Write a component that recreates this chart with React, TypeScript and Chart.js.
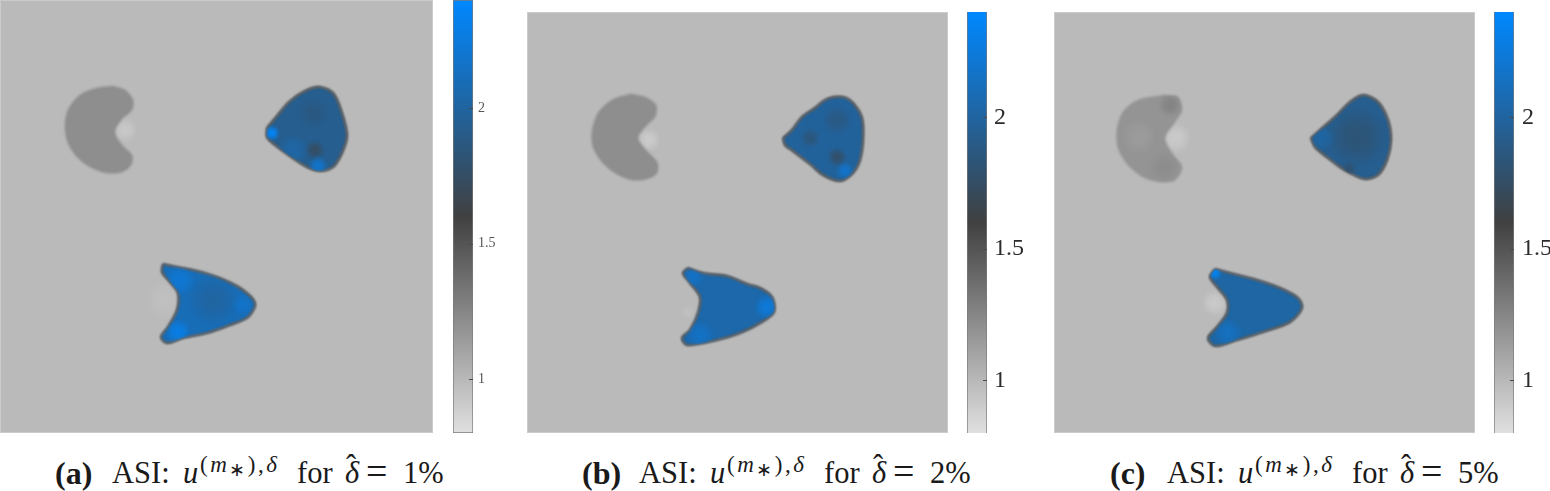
import React, { useEffect, useRef } from "react";
import { Chart, registerables } from "chart.js";

Chart.register(...registerables);

// colour scale of the field
const scaleValues = [0.8, 1.6, 2.4];
const scaleColors = [[224, 224, 224], [64, 64, 64], [0, 136, 255]];
const colorbarTicks = [1, 1.5, 2];
const backgroundValue = 0.99;
const edgeValue = 1.52;

// outlines, in field units (each field is one unit per sampled pixel)
const crescentA = [[113,86],[125,90],[133,100],[132,110],[122,119],[115,132],[122,145],[132,155],[131,165],[122,172],[107,173],[92,168],[78,158],[68,143],[65,127],[68,110],[80,95],[97,88]];
const rightA = [[267,128],[277,116],[289,102],[305,91],[320,87],[333,93],[341,110],[347,135],[342,153],[333,167],[320,171],[307,167],[290,156],[275,145],[267,137]];
const bottomA = [[163,264],[177,267],[197,271],[217,277],[240,288],[255,303],[248,317],[230,325],[207,333],[183,338],[167,343],[161,337],[168,327],[177,310],[178,293],[170,282],[162,272]];

const crescentB = [[103,82],[118,85],[129,93],[128,105],[118,115],[111,126],[118,137],[130,150],[130,161],[120,167],[105,168],[88,161],[75,150],[66,135],[65,120],[71,101],[85,88]];
const rightB = [[256,126],[265,118],[275,105],[288,96],[300,87],[316,85],[326,91],[335,106],[336,128],[333,148],[326,161],[313,169],[296,163],[283,152],[266,139],[258,133]];
const bottomB = [[161,256],[176,261],[200,264],[220,272],[233,276],[245,285],[247,300],[233,311],[213,321],[190,328],[160,333],[155,326],[163,318],[171,301],[173,285],[163,271],[156,261]];

const crescentC = [[111,83],[124,85],[128,98],[121,110],[111,126],[118,141],[128,155],[121,168],[106,170],[89,165],[74,153],[64,136],[63,118],[69,100],[84,88]];
const rightC = [[257,126],[266,118],[283,103],[296,90],[309,83],[324,90],[334,108],[337,128],[333,148],[324,163],[311,167],[296,161],[286,155],[274,146],[261,135]];
const bottomC = [[161,257],[176,261],[203,268],[226,276],[244,286],[248,296],[236,310],[209,320],[183,328],[161,334],[154,326],[163,315],[173,301],[173,288],[164,276],[156,265]];

// soft local extremes: x, y, radius, value
const halosA = [[125,130,13,0.92],[165,300,20,0.96]];
const spotsRightA = [[313,113,15,1.87],[293,150,16,2.03],[315,150,10,1.74],[318,166,10,2.2],[272,133,8,2.42]];
const spotsBottomA = [[213,300,26,2.0],[180,280,16,2.22],[178,332,13,2.3],[243,305,11,2.18]];

const halosB = [[122,128,12,0.9],[161,300,8,0.96]];
const spotsRightB = [[310,108,15,1.88],[283,126,10,1.84],[310,145,10,1.76],[318,159,9,2.2]];
const spotsBottomB = [[240,295,13,2.25],[173,323,15,2.16],[166,265,11,2.16]];

const halosC = [[122,126,16,0.91],[161,291,14,0.91]];
const crescentSpotsC = [[116,93,12,1.27],[85,125,18,1.14],[110,155,15,1.22]];
const spotsRightC = [[303,125,30,1.82],[268,126,13,2.02],[295,157,8,1.8]];
const spotsBottomC = [[161,261,7,2.36],[174,321,15,2.14]];

const panels = [
  { left: 0, top: 0, size: 433, halos: halosA, blobs: [
    { outline: crescentA, value: 1.21, edge: false, spots: [] },
    { outline: rightA, value: 1.93, edge: true, spots: spotsRightA },
    { outline: bottomA, value: 2.1, edge: true, spots: spotsBottomA },
  ] },
  { left: 527, top: 12, size: 421, halos: halosB, blobs: [
    { outline: crescentB, value: 1.21, edge: false, spots: [] },
    { outline: rightB, value: 1.98, edge: true, spots: spotsRightB },
    { outline: bottomB, value: 2.05, edge: true, spots: spotsBottomB },
  ] },
  { left: 1054, top: 12, size: 421, halos: halosC, blobs: [
    { outline: crescentC, value: 1.18, edge: false, spots: crescentSpotsC },
    { outline: rightC, value: 1.93, edge: true, spots: spotsRightC },
    { outline: bottomC, value: 2.02, edge: true, spots: spotsBottomC },
  ] },
];

const colorbars = [
  { left: 453, top: 0, height: 433, width: 70, fontSize: 14, padding: 5, labelColor: "#555", capped: true },
  { left: 967, top: 12, height: 421, width: 70, fontSize: 24, padding: 7, labelColor: "#2b2b2b", capped: false },
  { left: 1494, top: 12, height: 421, width: 56, fontSize: 24, padding: 8, labelColor: "#2b2b2b", capped: false },
];

const captions = [
  { left: 55, tag: "(a)", percent: "1%" },
  { left: 582, tag: "(b)", percent: "2%" },
  { left: 1110, tag: "(c)", percent: "5%" },
];

function colorFor(value: number): string {
  const v = Math.min(scaleValues[2], Math.max(scaleValues[0], value));
  const i = v <= scaleValues[1] ? 0 : 1;
  const t = (v - scaleValues[i]) / (scaleValues[i + 1] - scaleValues[i]);
  const c = scaleColors[i].map((a, k) => Math.round(a + (scaleColors[i + 1][k] - a) * t));
  return `rgb(${c[0]},${c[1]},${c[2]})`;
}

function sprite(spot: number[]): HTMLCanvasElement {
  const [, , r, value] = spot;
  const c = document.createElement("canvas");
  c.width = c.height = Math.ceil(r * 2);
  const g = c.getContext("2d")!;
  const rgb = colorFor(value);
  const grad = g.createRadialGradient(r, r, 0, r, r, r);
  grad.addColorStop(0, rgb);
  grad.addColorStop(0.45, rgb.replace("rgb(", "rgba(").replace(")", ",0.75)"));
  grad.addColorStop(1, rgb.replace("rgb(", "rgba(").replace(")", ",0)"));
  g.fillStyle = grad;
  g.fillRect(0, 0, c.width, c.height);
  return c;
}

function spotDataset(spots: number[][], clipTo: number | null) {
  return {
    data: spots.map(([x, y]) => ({ x, y })),
    showLine: false,
    pointStyle: spots.map(sprite),
    pointRadius: 3,
    clip: false,
    clipTo,
  };
}

function blobDataset(outline: number[][], value: number, edge: boolean) {
  const pts = [...outline, outline[0]].map(([x, y]) => ({ x, y }));
  return {
    data: pts,
    showLine: true,
    pointRadius: 0,
    tension: 0.3,
    fill: "shape",
    backgroundColor: colorFor(value),
    borderColor: edge ? colorFor(edgeValue) : colorFor(value),
    borderWidth: edge ? 2.2 : 0.5,
    clip: false,
  };
}

const fieldPlugin = {
  id: "field",
  beforeDatasetsDraw(chart: any) {
    const { ctx, chartArea: a } = chart;
    ctx.save();
    ctx.fillStyle = colorFor(backgroundValue);
    ctx.fillRect(a.left, a.top, a.width, a.height);
    ctx.strokeStyle = "#cbcbcb";
    ctx.lineWidth = 1;
    ctx.strokeRect(a.left + 0.5, a.top + 0.5, a.width - 1, a.height - 1);
    ctx.restore();
    ctx.filter = "blur(0.9px)";
  },
  beforeDatasetDraw(chart: any, args: any) {
    const target = chart.data.datasets[args.index].clipTo;
    if (target === null || target === undefined) return;
    const { ctx } = chart;
    ctx.save();
    const line = chart.getDatasetMeta(target).dataset;
    ctx.beginPath();
    line.path(ctx);
    ctx.clip();
  },
  afterDatasetDraw(chart: any, args: any) {
    const target = chart.data.datasets[args.index].clipTo;
    if (target === null || target === undefined) return;
    chart.ctx.restore();
  },
  afterDatasetsDraw(chart: any) {
    chart.ctx.filter = "none";
  },
};

function makeField(canvas: HTMLCanvasElement, p: any) {
  const datasets: any[] = [];
  if (p.halos.length) datasets.push(spotDataset(p.halos, null));
  for (const b of p.blobs) {
    datasets.push(blobDataset(b.outline, b.value, b.edge));
    if (b.spots.length) datasets.push(spotDataset(b.spots, datasets.length - 1));
  }
  datasets.forEach((d, i) => (d.order = -i));
  return new Chart(canvas, {
    type: "scatter",
    data: { datasets },
    options: {
      animation: false,
      responsive: false,
      events: [],
      layout: { padding: 0, autoPadding: false },
      plugins: { legend: { display: false }, tooltip: { enabled: false } },
      scales: {
        x: { type: "linear", min: 0, max: p.size, display: false },
        y: { type: "linear", min: 0, max: p.size, reverse: true, display: false },
      },
    },
    plugins: [fieldPlugin],
  } as any);
}

const barTicksPlugin = {
  id: "barTicks",
  afterDatasetsDraw(chart: any) {
    const { ctx, chartArea: a, scales } = chart;
    ctx.save();
    ctx.strokeStyle = "#4a4a4a";
    ctx.lineWidth = 1;
    for (const v of colorbarTicks) {
      const y = Math.round(scales.y.getPixelForValue(v)) + 0.5;
      ctx.beginPath();
      ctx.moveTo(a.right - 4, y);
      ctx.lineTo(a.right, y);
      ctx.stroke();
    }
    ctx.restore();
  },
};

function makeColorbar(canvas: HTMLCanvasElement, b: any) {
  const lo = scaleValues[0];
  const hi = scaleValues[2];
  return new Chart(canvas, {
    type: "bar",
    data: {
      labels: ["u"],
      datasets: [
        {
          data: [[lo, hi]],
          barPercentage: 1,
          categoryPercentage: 1,
          borderSkipped: false,
          borderColor: "#7a7a7a",
          borderWidth: b.capped ? 1 : { left: 1, right: 1, top: 0, bottom: 0 },
          backgroundColor: (c: any) => {
            const { chart } = c;
            if (!chart.chartArea) return colorFor(hi);
            const s = chart.scales.y;
            const g = chart.ctx.createLinearGradient(0, s.getPixelForValue(lo), 0, s.getPixelForValue(hi));
            scaleValues.forEach((v) => g.addColorStop((v - lo) / (hi - lo), colorFor(v)));
            return g;
          },
        },
      ],
    },
    options: {
      animation: false,
      responsive: false,
      events: [],
      layout: { padding: 0, autoPadding: false },
      plugins: { legend: { display: false }, tooltip: { enabled: false } },
      scales: {
        x: { display: false },
        y: {
          position: "right",
          min: lo,
          max: hi,
          border: { display: false },
          grid: { display: false, drawTicks: false },
          afterBuildTicks: (s: any) => {
            s.ticks = colorbarTicks.map((value) => ({ value }));
          },
          afterFit: (s: any) => {
            s.width = b.width - 20;
            s.paddingTop = 0;
            s.paddingBottom = 0;
          },
          ticks: {
            padding: b.padding,
            color: b.labelColor,
            font: { family: "'Liberation Serif', serif", size: b.fontSize },
            callback: (v: any) => String(v),
          },
        },
      },
    },
    plugins: [barTicksPlugin],
  } as any);
}

const absolute = (left: number, top: number): React.CSSProperties => ({ position: "absolute", left, top, display: "block" });
const part = (left: number, top = 0): React.CSSProperties => ({ position: "absolute", left, top });

function Caption({ left, tag, percent }: { left: number; tag: string; percent: string }) {
  return (
    <div style={{ position: "absolute", left, top: 458, width: 400, height: 30, whiteSpace: "nowrap", fontFamily: "'Liberation Serif', serif", fontSize: 30.5, lineHeight: "30px", color: "#1a1a1a" }}>
      <b style={{ ...part(0), fontSize: 32 }}>{tag}</b>
      <span style={part(57)}>ASI:</span>
      <i style={part(128)}>u</i>
      <span style={{ ...part(145, -8), fontSize: 23, letterSpacing: 2.5 }}>
        (<i>m</i><span style={{ fontSize: 19, position: "relative", top: 4 }}>∗</span>),<i>δ</i>
      </span>
      <span style={part(242)}>for</span>
      <i style={part(290)}>δ</i>
      <span style={part(291, -7)}>ˆ</span>
      <span style={{ ...part(311, -2), fontSize: 38 }}>=</span>
      <span style={part(348)}>{percent}</span>
    </div>
  );
}

export default function App() {
  const fieldRefs = useRef<(HTMLCanvasElement | null)[]>([]);
  const barRefs = useRef<(HTMLCanvasElement | null)[]>([]);

  useEffect(() => {
    const charts = [
      ...panels.map((p, i) => makeField(fieldRefs.current[i]!, p)),
      ...colorbars.map((b, i) => makeColorbar(barRefs.current[i]!, b)),
    ];
    return () => charts.forEach((c) => c.destroy());
  }, []);

  return (
    <div>
      {panels.map((p, i) => (
        <canvas key={i} ref={(el) => { fieldRefs.current[i] = el; }} width={p.size} height={p.size} style={absolute(p.left, p.top)} />
      ))}
      {colorbars.map((b, i) => (
        <canvas key={i} ref={(el) => { barRefs.current[i] = el; }} width={b.width} height={b.height} style={absolute(b.left, b.top)} />
      ))}
      {captions.map((c, i) => (
        <Caption key={i} {...c} />
      ))}
    </div>
  );
}
